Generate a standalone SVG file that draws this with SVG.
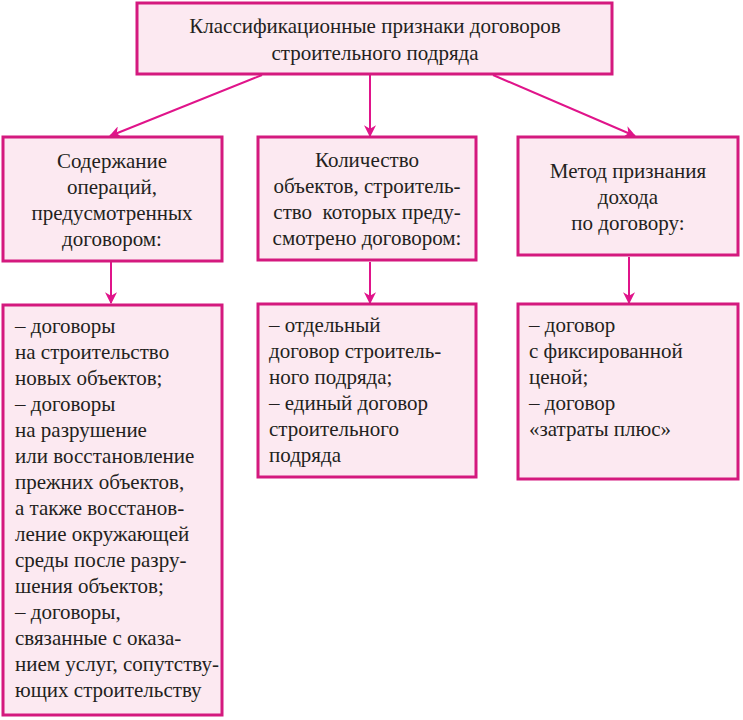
<svg xmlns="http://www.w3.org/2000/svg" width="743" height="720" viewBox="0 0 743 720">
<defs>
<style>
.box{fill:#fce9f1;stroke:#d4197e;stroke-width:3}
.c{text-anchor:middle}
.con{stroke:#e0148a;stroke-width:2;fill:none}
</style>
<marker id="ah" viewBox="0 0 10 10" refX="9" refY="5" markerWidth="12" markerHeight="12" orient="auto" markerUnits="userSpaceOnUse">
<path d="M0,0 L10,5 L0,10 L3,5 z" fill="#e0148a"/>
</marker>
</defs>
<rect width="743" height="720" fill="#fff"/>
<g id="connectors">
<line class="con" x1="262" y1="75" x2="110" y2="136" marker-end="url(#ah)"/>
<line class="con" x1="370" y1="75" x2="370" y2="136" marker-end="url(#ah)"/>
<line class="con" x1="493" y1="75" x2="635" y2="136" marker-end="url(#ah)"/>
<line class="con" x1="111" y1="262" x2="111" y2="303" marker-end="url(#ah)"/>
<line class="con" x1="370" y1="262" x2="370" y2="303" marker-end="url(#ah)"/>
<line class="con" x1="629" y1="257" x2="629" y2="303" marker-end="url(#ah)"/>
</g>
<g font-family="Liberation Serif, DejaVu Serif, serif" font-size="21" fill="#231f20">
<g id="root">
<rect class="box" x="137" y="3" width="475" height="71"/>
<text class="c" x="375" y="33">Классификационные признаки договоров</text>
<text class="c" x="375" y="60">строительного подряда</text>
</g>
<g id="n1">
<rect class="box" x="3" y="137" width="219" height="124"/>
<text class="c" x="112" y="168">Содержание</text>
<text class="c" x="112" y="194">операций,</text>
<text class="c" x="112" y="220">предусмотренных</text>
<text class="c" x="112" y="246">договором:</text>
</g>
<g id="n2">
<rect class="box" x="258" y="137" width="218" height="123"/>
<text class="c" x="367" y="167">Количество</text>
<text class="c" x="367" y="193">объектов, строитель-</text>
<text class="c" x="367" y="219" xml:space="preserve">ство  которых преду-</text>
<text class="c" x="367" y="245">смотрено договором:</text>
</g>
<g id="n3">
<rect class="box" x="518" y="137" width="220" height="118"/>
<text class="c" x="628" y="178">Метод признания</text>
<text class="c" x="628" y="204">дохода</text>
<text class="c" x="628" y="230">по договору:</text>
</g>
<g id="l1">
<rect class="box" x="3" y="305" width="219" height="410"/>
<text x="15" y="333">– договоры</text>
<text x="15" y="359">на строительство</text>
<text x="15" y="385">новых объектов;</text>
<text x="15" y="411">– договоры</text>
<text x="15" y="437">на разрушение</text>
<text x="15" y="463">или восстановление</text>
<text x="15" y="489">прежних объектов,</text>
<text x="15" y="515">а также восстанов-</text>
<text x="15" y="541">ление окружающей</text>
<text x="15" y="567">среды после разру-</text>
<text x="15" y="593">шения объектов;</text>
<text x="15" y="619">– договоры,</text>
<text x="15" y="645">связанные с оказа-</text>
<text x="15" y="671">нием услуг, сопутству-</text>
<text x="15" y="697">ющих строительству</text>
</g>
<g id="l2">
<rect class="box" x="258" y="304" width="218" height="173"/>
<text x="269" y="332">– отдельный</text>
<text x="269" y="358">договор строитель-</text>
<text x="269" y="384">ного подряда;</text>
<text x="269" y="410">– единый договор</text>
<text x="269" y="436">строительного</text>
<text x="269" y="462">подряда</text>
</g>
<g id="l3">
<rect class="box" x="518" y="304" width="220" height="175"/>
<text x="529" y="332">– договор</text>
<text x="529" y="358">с фиксированной</text>
<text x="529" y="384">ценой;</text>
<text x="529" y="410">– договор</text>
<text x="529" y="436">«затраты плюс»</text>
</g>
</g>
</svg>
